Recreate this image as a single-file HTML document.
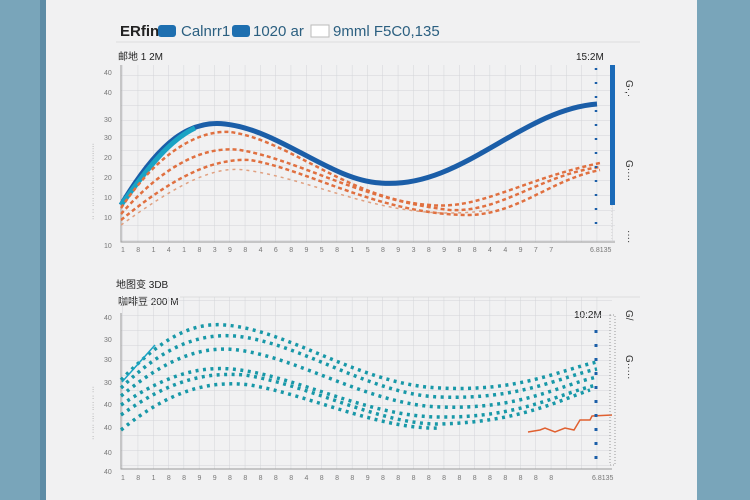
<!DOCTYPE html><html><head><style>
body{margin:0;width:750px;height:500px;background:#79a5ba;overflow:hidden;font-family:"Liberation Sans",sans-serif}
</style></head><body>
<svg width="750" height="500" style="position:absolute;left:0;top:0">
<defs>
<pattern id="g" width="15.3" height="15" patternUnits="userSpaceOnUse"><path d="M0 0V15M0 0H15.3" stroke="#d2d4d8" stroke-width="1" fill="none"/></pattern>
</defs>
<rect x="46" y="0" width="651" height="500" fill="#f1f1f2"/>
<rect x="40" y="0" width="6" height="500" fill="#5e8ca6"/>
<text x="230" y="2" font-size="11" fill="#666">· ······ ···  · ···· · ·····  · ··</text>
<text x="120" y="36" font-size="15" fill="#222" font-weight="bold" font-family="Liberation Sans Narrow, Liberation Sans, sans-serif">ERfin</text>
<rect x="158" y="25" width="18" height="12" rx="3" fill="#1e6fb0"/>
<text x="181" y="36" font-size="15" fill="#2b5f80" font-family="Liberation Sans Narrow, Liberation Sans, sans-serif">Calnrr1</text>
<rect x="232" y="25" width="18" height="12" rx="3" fill="#1e6fb0"/>
<text x="253" y="36" font-size="15" fill="#2b5f80" font-family="Liberation Sans Narrow, Liberation Sans, sans-serif">1020 ar</text>
<rect x="311" y="25" width="18" height="12" fill="#fff" stroke="#bbb"/>
<text x="333" y="36" font-size="15" fill="#2b5f80" font-family="Liberation Sans Narrow, Liberation Sans, sans-serif">9mml F5C0,135</text>
<line x1="116" y1="42" x2="640" y2="42" stroke="#ddd"/>
<text x="118" y="60" font-size="10" fill="#222">邮地 1 2M</text>
<text x="576" y="60" font-size="10" fill="#222">15:2M</text>
<rect x="121" y="65" width="494" height="177" fill="url(#g)"/>
<path d="M121 65V242H615" stroke="#999" fill="none"/>
<g font-size="7" fill="#777">
<text x="104" y="75">40</text><text x="104" y="95">40</text><text x="104" y="122">30</text><text x="104" y="140">30</text><text x="104" y="160">20</text><text x="104" y="180">20</text><text x="104" y="200">10</text><text x="104" y="220">10</text><text x="104" y="248">10</text>
<text x="121" y="252" letter-spacing="11.4">18141839846895815893898844977</text>
<text x="590" y="252">6.8135</text>
</g>
<path d="M121 205 C160 140 190 120 225 124 C280 130 330 180 380 183 C460 190 520 110 597 104" stroke="#1b5ea8" stroke-width="5" fill="none"/>
<path d="M121 205 C150 165 170 140 195 128" stroke="#1aa3c4" stroke-width="5" fill="none"/>
<g stroke="#e07040" stroke-width="2.5" stroke-dasharray="4 3" fill="none">
<path d="M121 208 C160 150 200 130 230 132 C290 140 350 200 430 205 C480 210 520 180 600 163"/>
<path d="M121 214 C160 170 200 145 240 150 C300 160 360 200 450 210 C500 213 540 175 600 167"/>
<path d="M121 220 C170 180 210 158 250 160 C310 170 380 215 470 215 C520 213 550 180 600 170"/>
</g>
<path d="M121 225 C170 190 210 165 245 170 C320 180 390 225 490 210" stroke="#e0a080" stroke-width="1.5" stroke-dasharray="3 4" fill="none"/>
<line x1="596" y1="68" x2="596" y2="230" stroke="#1b5ea8" stroke-width="2.5" stroke-dasharray="2 12"/>
<rect x="610" y="65" width="5" height="140" fill="#1b6ab8"/>
<line x1="612" y1="205" x2="612" y2="242" stroke="#ccc" stroke-dasharray="1 2"/>
<g font-size="10" fill="#333"><text x="626" y="80" transform="rotate(90 626 80)">G·,·</text><text x="626" y="160" transform="rotate(90 626 160)">G····</text><text x="626" y="230" transform="rotate(90 626 230)">····</text></g>
<text x="95" y="220" font-size="7" fill="#888" transform="rotate(-90 95 220)">·· ·· ···· ···· ···· ··· ·········</text>
<line x1="180" y1="297" x2="640" y2="297" stroke="#ddd"/>
<text x="116" y="288" font-size="10" fill="#222">地图变 3DB</text>
<text x="118" y="305" font-size="10" fill="#222">咖啡豆 200 M</text>
<text x="574" y="318" font-size="10" fill="#222">10:2M</text>
<rect x="121" y="297" width="491" height="172" fill="url(#g)"/>
<path d="M121 313V469H612" stroke="#999" fill="none"/>
<g font-size="7" fill="#777">
<text x="104" y="320">40</text><text x="104" y="342">30</text><text x="104" y="362">30</text><text x="104" y="385">30</text><text x="104" y="407">40</text><text x="104" y="430">40</text><text x="104" y="455">40</text><text x="104" y="474">40</text>
<text x="121" y="480" letter-spacing="11.4">18188998888848889888888888888</text>
<text x="592" y="480">6.8135</text>
</g>
<g stroke="#1898a8" stroke-width="3.5" stroke-dasharray="3 4.5" fill="none">
<path d="M121 380 C160 340 190 322 225 325 C290 330 360 385 440 388 C520 392 560 370 597 362"/>
<path d="M121 388 C160 350 195 333 235 336 C300 342 370 395 440 397 C520 400 560 377 597 369"/>
<path d="M121 396 C165 360 200 345 238 350 C300 358 370 405 440 407 C520 410 560 385 597 377"/>
<path d="M121 405 C170 372 205 365 240 370 C300 378 370 417 440 417 C520 418 560 393 597 385"/>
<path d="M121 415 C170 380 205 372 245 375 C310 385 380 425 440 424 C520 422 560 400 590 390"/>
<path d="M121 430 C170 390 210 380 250 385 C310 395 380 430 440 428"/>
</g>
<path d="M122 382 L155 345" stroke="#1aa3c4" stroke-width="1.5"/>
<path d="M528 432 L540 430 L545 428 L555 432 L565 428 L574 430 L580 420 L590 420 L592 416 L612 415" stroke="#e06030" stroke-width="1.5" fill="none"/>
<line x1="596" y1="330" x2="596" y2="460" stroke="#1b5ea8" stroke-width="3" stroke-dasharray="3 11"/>
<rect x="610" y="315" width="5" height="150" fill="none" stroke="#999" stroke-dasharray="1 2"/>
<g font-size="10" fill="#333"><text x="626" y="310" transform="rotate(90 626 310)">G/</text><text x="626" y="355" transform="rotate(90 626 355)">G·····</text></g>
<text x="95" y="440" font-size="7" fill="#888" transform="rotate(-90 95 440)">·· ···· ···· ···· ·· ···</text>
</svg>
</body></html>
